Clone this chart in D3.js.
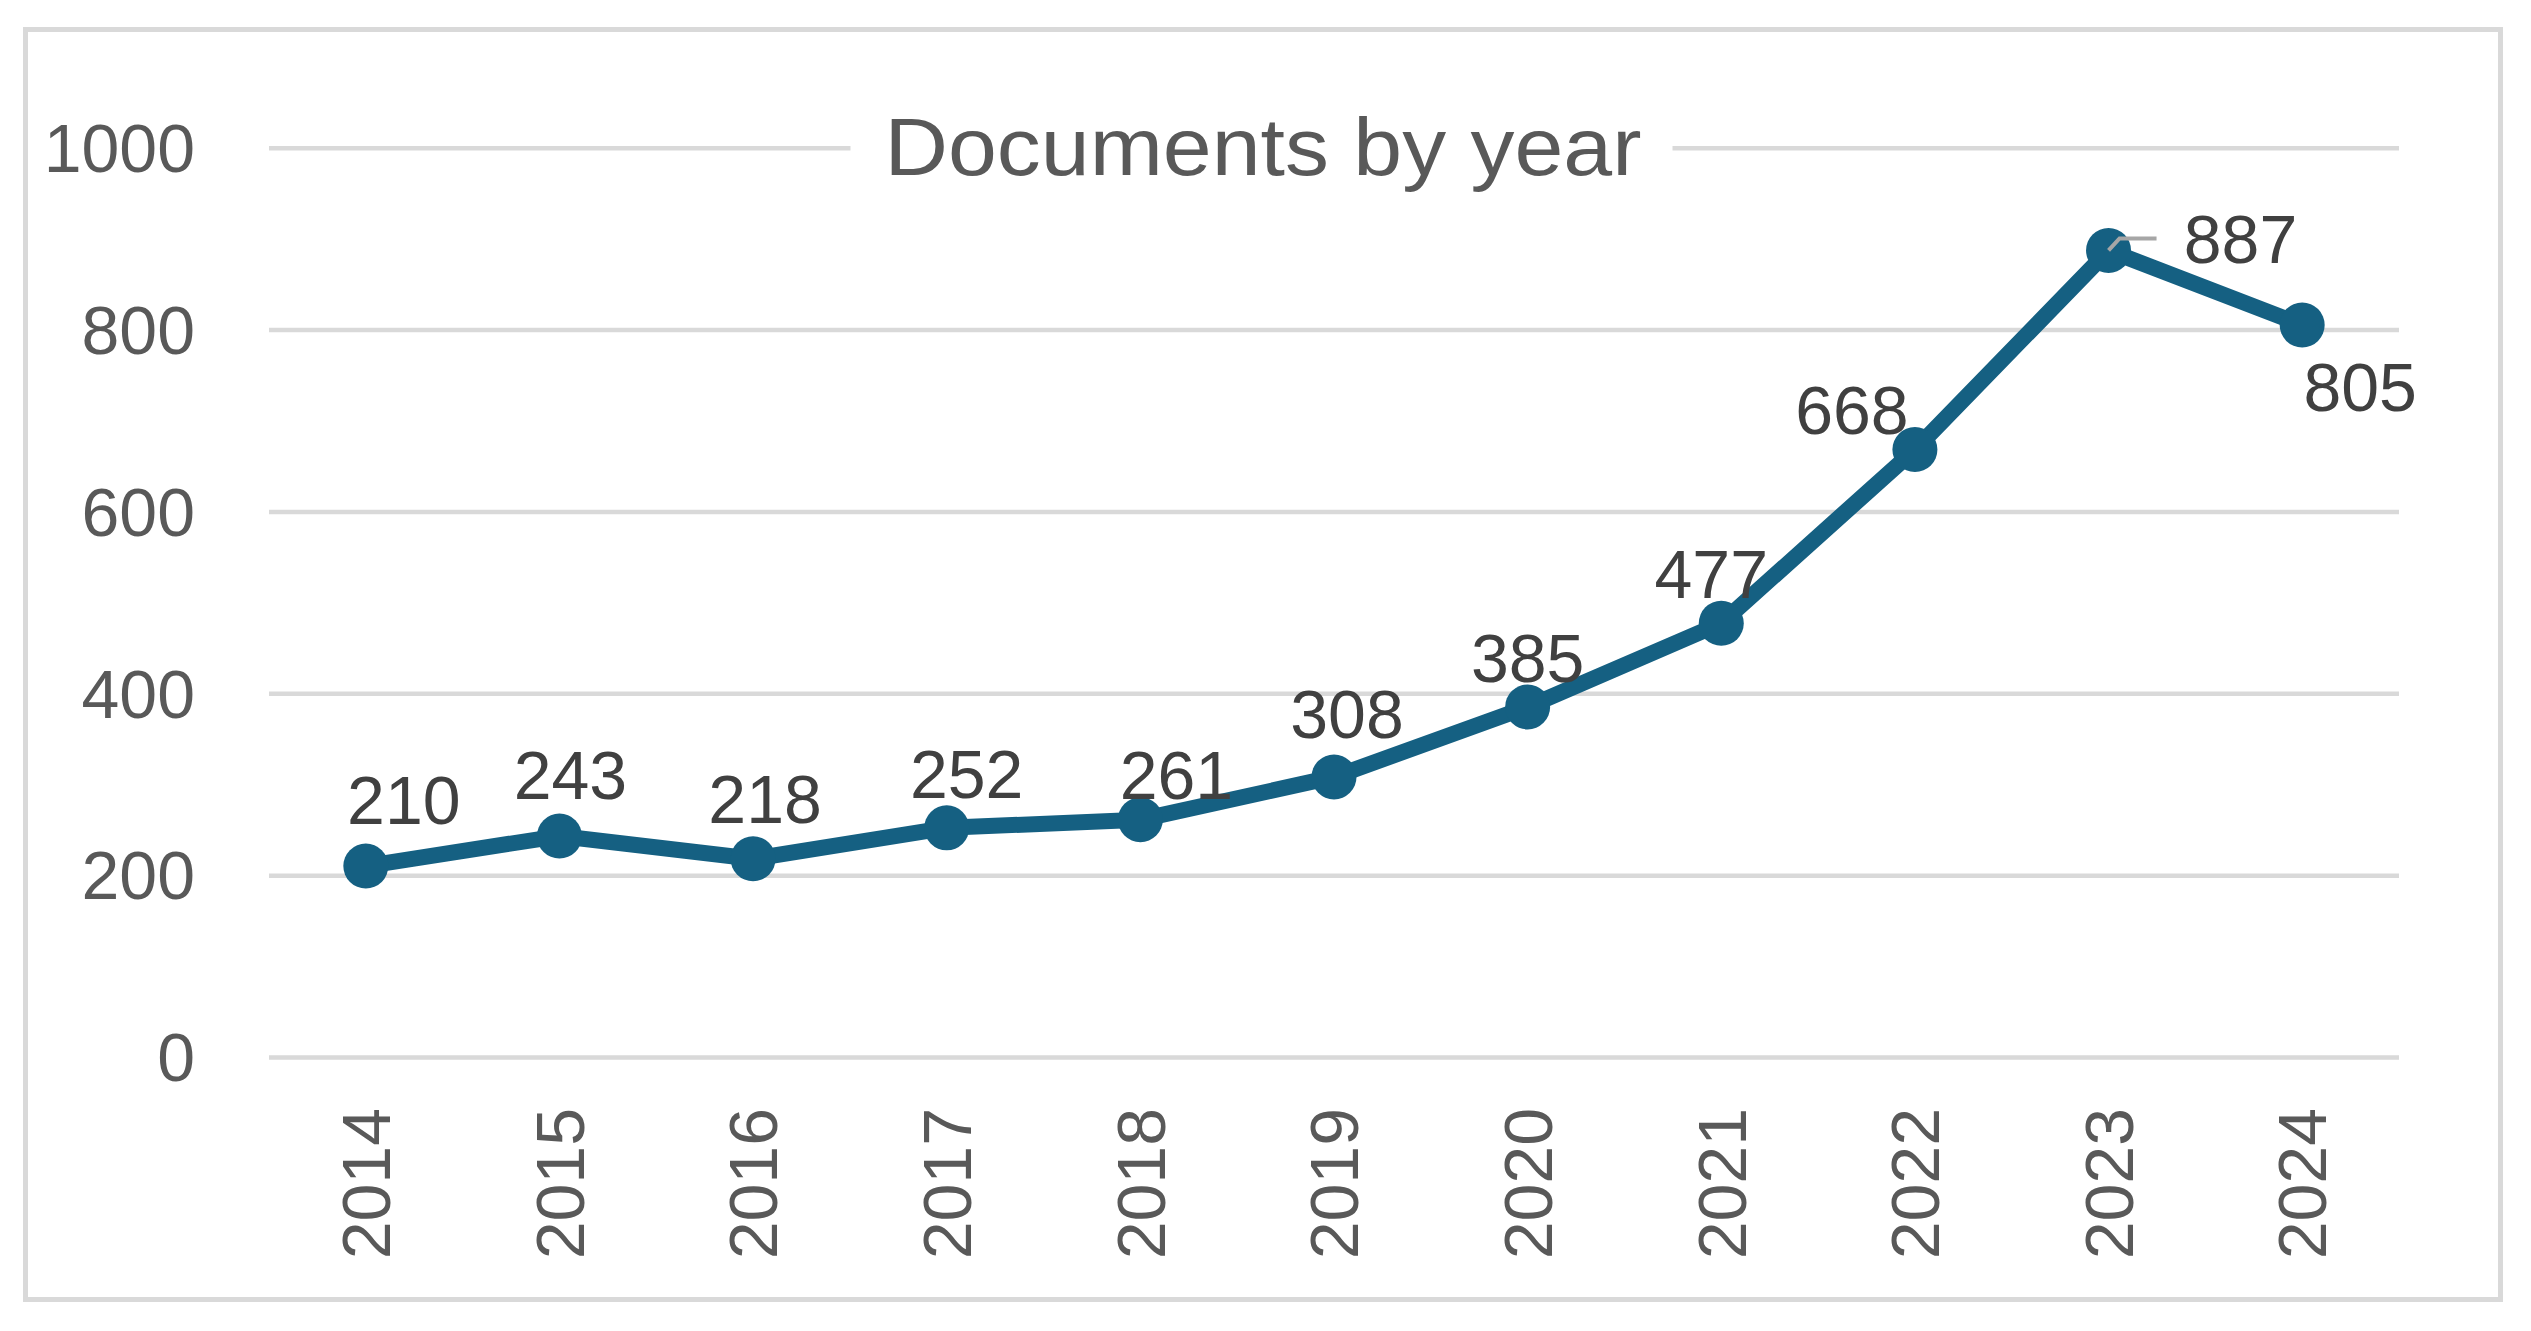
<!DOCTYPE html>
<html>
<head>
<meta charset="utf-8">
<script src="https://cdn.jsdelivr.net/npm/d3@7"></script>
<style>
  html, body { margin: 0; padding: 0; background: #ffffff; }
  svg { display: block; }
  text { font-family: "Liberation Sans", Arial, sans-serif; }
</style>
</head>
<body>
<svg id="chart" width="2531" height="1331"></svg>
<script>
// ---- data ----
const years = ["2014","2015","2016","2017","2018","2019","2020","2021","2022","2023","2024"];
const documents = [210, 243, 218, 252, 261, 308, 385, 477, 668, 887, 805];
const yTicks = [0, 200, 400, 600, 800, 1000];
const chartTitle = "Documents by year";

// ---- layout (label nudges, as placed in the original) ----
const labelNudgeX = [38, 11, 12, 20, 36, 13, 0, -10, -63, 132, 58];
const labelNudgeY = [-42, -37, -36, -30, -21, -39, -25, -25, -16, 13, 86];
const leaderAt = ["2023"];

const W = 2531, H = 1331;
const plot = { left: 269, right: 2399, top: 147.7, bottom: 1057 };
const lineColor = "#156082";

const svg = d3.select("#chart");

// outer chart border
svg.append("rect")
  .attr("x", 25.5).attr("y", 29.5)
  .attr("width", 2475).attr("height", 1270)
  .attr("fill", "#ffffff")
  .attr("stroke", "#d9d9d9")
  .attr("stroke-width", 5);

const x = d3.scalePoint().domain(years).range([plot.left, plot.right]).padding(0.5);
const y = d3.scaleLinear().domain([0, 1000]).range([plot.bottom, plot.top]);

// y axis + gridlines
const yAxis = svg.append("g")
  .attr("transform", `translate(${plot.left},0)`)
  .call(d3.axisLeft(y).tickValues(yTicks).tickSize(-(plot.right - plot.left)).tickPadding(74).tickFormat(d3.format("d")));
yAxis.select(".domain").remove();
yAxis.selectAll(".tick line").attr("stroke", "#d9d9d9").attr("stroke-width", 4.5);
yAxis.selectAll(".tick text")
  .attr("fill", "#595959")
  .attr("font-size", 68)
  .attr("dy", "0.35em");

// x axis labels (rotated)
const xAxis = svg.append("g")
  .attr("transform", `translate(0,${plot.bottom})`)
  .call(d3.axisBottom(x).tickSize(0));
xAxis.select(".domain").remove();
xAxis.selectAll(".tick text")
  .attr("fill", "#595959")
  .attr("font-size", 68)
  .attr("transform", "rotate(-90)")
  .attr("x", -51)
  .attr("y", 0)
  .attr("dy", "0.35em")
  .attr("text-anchor", "end");

// title with white backing over the top gridline
const titleX = (25.5 + 2500.5) / 2;
const titleG = svg.append("g");
const titleBg = titleG.append("rect").attr("fill", "#ffffff");
titleG.append("text")
  .attr("x", titleX)
  .attr("y", 174.5)
  .attr("text-anchor", "middle")
  .attr("font-size", 82)
  .attr("fill", "#595959")
  .attr("textLength", 757)
  .attr("lengthAdjust", "spacingAndGlyphs")
  .text(chartTitle);
titleBg
  .attr("x", titleX - 757 / 2 - 34)
  .attr("width", 757 + 65)
  .attr("y", 110)
  .attr("height", 80);

// data series
const pts = years.map((yr, i) => ({ year: yr, value: documents[i], i }));

svg.append("path")
  .datum(pts)
  .attr("fill", "none")
  .attr("stroke", lineColor)
  .attr("stroke-width", 16)
  .attr("stroke-linejoin", "round")
  .attr("stroke-linecap", "round")
  .attr("d", d3.line().x(d => x(d.year)).y(d => y(d.value)));

svg.append("g").selectAll("circle")
  .data(pts)
  .join("circle")
  .attr("cx", d => x(d.year))
  .attr("cy", d => y(d.value))
  .attr("r", 22.5)
  .attr("fill", lineColor);

// leader lines
svg.append("g").selectAll("path")
  .data(pts.filter(d => leaderAt.includes(d.year)))
  .join("path")
  .attr("fill", "none")
  .attr("stroke", "#a6a6a6")
  .attr("stroke-width", 4)
  .attr("d", d => {
    const px = x(d.year), py = y(d.value);
    return `M${px},${py} L${px + 11},${py - 12} H${px + 48}`;
  });

// data labels
svg.append("g").selectAll("text")
  .data(pts)
  .join("text")
  .attr("x", d => x(d.year) + labelNudgeX[d.i])
  .attr("y", d => y(d.value) + labelNudgeY[d.i])
  .attr("text-anchor", "middle")
  .attr("font-size", 68)
  .attr("fill", "#404040")
  .text(d => d.value);
</script>
</body>
</html>
